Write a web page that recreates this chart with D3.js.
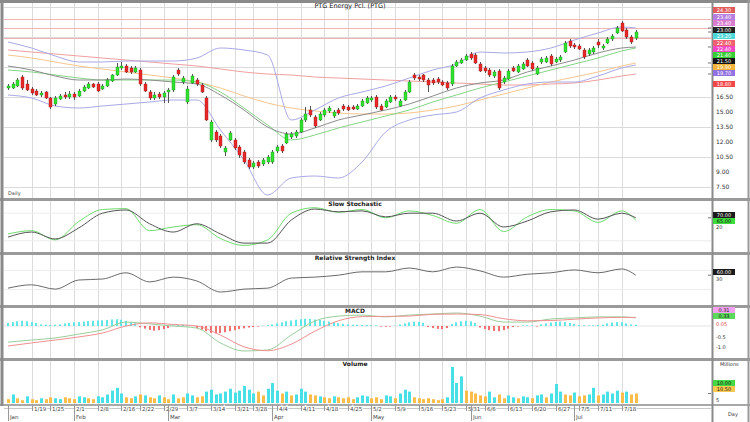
<!DOCTYPE html>
<html>
<head>
<meta charset="utf-8">
<script src="https://cdn.jsdelivr.net/npm/d3@7"></script>
<style>
  body { margin: 0; background: #fff; }
  svg { display: block; font-family: "DejaVu Sans", sans-serif; }
</style>
</head>
<body>
<svg id="chart" width="750" height="422"></svg>
<script>
'use strict'

// ---- data ----
var holidays = ["2016-01-18", "2016-02-15", "2016-03-25", "2016-05-30", "2016-07-04"];

var opens = [17.4,17.4,17.6,18.5,17.8,17.3,17.1,16.7,17.0,16.4, 15.8,16.3,16.7,16.5,16.8,16.6,17.1,17.4,17.8,17.8,
  17.3,17.6,18.1,18.7,19.4,19.6,19.4,19.0,19.2,17.8, 17.0,16.4,16.8,16.5,17.0,17.2,19.2,18.0,16.0,17.9,
  18.2,17.7,16.4,12.2,13.0,12.6,11.0,12.2,12.2,11.5, 11.0,10.2,9.5,10.0,9.8,10.0,10.0,11.1,11.6,11.9,
  12.5,12.6,13.0,14.2,15.2,14.5,14.2,14.7,15.1,14.6, 15.2,15.6,15.5,15.5,15.3,15.6,15.9,16.2,16.5,15.6,
  15.5,16.0,16.5,15.6,16.2,17.0,18.7,18.5,18.7,18.2, 18.2,18.3,18.0,17.9,17.8,19.6,19.9,20.2,20.8,20.7,
  19.8,19.4,19.2,18.6,19.1,18.0,18.3,19.4,19.0,19.3, 20.2,19.9,18.8,20.0,20.0,20.6,20.0,20.2,21.0,22.1,
  21.7,21.6,21.2,20.8,21.0,22.0,21.4,21.9,22.3,22.9, 23.9,23.2,22.5,22.4];
var closes = [17.6,17.8,18.2,17.4,17.2,16.9,16.7,16.9,16.4,15.5, 16.4,16.6,16.5,16.8,16.5,17.1,17.5,17.8,17.5,17.1,
  17.6,18.2,18.7,19.5,19.6,19.0,19.0,19.4,17.8,17.1, 16.4,16.7,16.5,16.9,17.2,18.5,18.8,18.4,17.3,18.6,
  17.8,17.0,14.2,14.0,12.2,11.6,11.4,12.9,11.4,10.7, 10.0,9.5,9.9,9.6,10.2,10.5,11.0,11.5,11.1,12.8,
  12.8,13.0,14.2,14.8,14.7,13.6,14.8,15.2,15.4,15.0, 14.9,15.3,15.2,15.3,15.6,16.1,16.4,16.4,15.5,15.2,
  16.1,16.5,16.3,16.1,17.0,18.0,18.4,18.3,18.2,17.7, 17.9,18.0,17.7,17.4,19.6,20.0,20.2,20.6,20.4,19.9,
  19.1,19.1,18.7,19.0,17.4,18.4,19.1,19.1,19.6,19.8, 19.6,19.3,19.4,20.3,20.4,19.8,20.3,20.5,21.9,21.6,
  21.5,21.3,20.5,21.2,21.4,21.7,21.6,22.3,22.6,23.4, 23.1,22.5,22.0,23.0];
var highs = [17.8,18.0,18.4,18.7,18.2,17.5,17.3,17.1,17.1,16.5, 16.6,16.8,17.0,17.1,17.0,17.3,17.7,18.0,17.9,18.0,
  17.8,18.4,18.8,19.9,20.0,19.8,19.6,19.6,19.4,18.0, 17.2,17.0,17.0,17.1,17.4,18.7,19.4,18.6,17.6,18.8,
  18.4,17.9,16.6,14.2,13.2,12.8,11.6,13.1,12.4,11.7, 11.2,10.4,10.1,10.2,10.4,10.7,11.2,11.7,11.8,13.0,
  13.0,13.2,14.4,15.5,15.6,14.7,15.0,15.4,15.6,15.2, 15.4,15.8,15.7,15.7,15.8,16.3,16.6,16.6,16.7,15.8,
  16.3,16.7,16.7,16.3,17.2,18.2,18.9,18.7,18.8,18.4, 18.4,18.5,18.2,18.1,19.8,20.2,20.4,20.8,21.0,20.9,
  20.0,19.6,19.4,19.2,19.3,18.6,19.3,19.6,19.8,20.0, 20.4,20.1,19.6,20.5,20.6,20.8,20.5,20.7,22.1,22.3,
  21.9,21.8,21.4,21.4,21.6,22.3,21.8,22.5,22.8,23.6, 24.1,23.4,22.7,23.2];
var lows = [17.2,17.3,17.5,17.2,17.1,16.7,16.6,16.5,16.3,15.3, 15.6,16.2,16.3,16.3,16.2,16.5,17.0,17.3,17.4,17.0,
  17.2,17.5,18.0,18.6,19.2,18.9,18.8,18.9,17.6,17.0, 16.2,16.2,16.3,15.9,15.9,17.0,18.6,17.8,15.8,17.8,
  17.6,16.9,14.1,12.0,12.0,11.4,10.6,12.1,11.2,10.4, 9.8,9.3,9.3,9.4,9.6,9.8,9.8,10.9,10.9,11.8,
  12.3,12.4,12.9,14.0,14.5,13.4,14.1,14.5,14.9,14.4, 14.7,15.1,15.1,15.2,15.2,15.5,15.8,16.0,15.3,15.1,
  15.4,15.9,16.1,15.5,16.1,16.9,18.2,18.1,18.0,17.0, 17.7,17.8,17.6,17.2,17.6,19.5,19.8,20.1,20.2,19.8,
  19.0,18.9,18.5,18.4,17.2,17.8,18.2,19.0,18.9,19.2, 19.5,19.1,18.7,19.8,19.9,19.6,19.9,20.0,20.9,21.4,
  21.3,21.2,20.3,20.6,20.8,21.4,21.2,21.8,22.1,22.8, 23.0,22.3,21.8,22.2];

// volume in millions, and whether the bar is drawn as an "up" (cyan) bar
var volumes = [4,9,5,3,7,4,3,5,4,6, 5,4,6,5,4,7,6,5,4,7, 6,9,13,16,10,6,5,7,9,8,
  6,5,8,6,4,9,5,6,10,8, 6,7,12,14,9,10,12,15,11,13, 18,14,10,12,8,15,21,13,10,12,
  8,9,15,12,9,8,7,6,5,7, 6,5,6,4,6,8,7,5,6,4, 8,7,5,10,14,12,6,5,4,5,
  4,3,4,6,38,21,28,13,12,10, 8,7,12,6,9,5,8,6,5,7, 6,5,8,9,6,10,20,12,9,8,
  11,7,8,9,16,8,9,12,10,13, 11,12,9,10];
var volUp = [0,1,0,0,1,0,0,1,0,0, 1,1,0,0,0,1,1,0,0,1, 1,1,1,1,1,0,0,1,0,1,
  0,0,1,0,0,1,0,0,1,1, 0,0,1,1,1,1,1,1,1,1, 1,1,1,0,0,1,1,1,0,1,
  0,1,1,1,0,0,1,0,0,1, 0,0,0,0,1,1,1,0,0,0, 1,1,0,1,1,1,0,0,0,0,
  0,0,0,1,1,1,1,0,0,0, 0,0,1,1,0,0,1,1,0,1, 1,0,1,1,0,1,1,1,0,0,
  1,0,0,1,1,0,1,1,1,1, 0,1,0,0];

var macdHist = [0.12,0.15,0.18,0.2,0.18,0.15,0.12, 0.06,0.05,0.04,0.05,0.06,
  0.1,0.12,0.14,0.15,0.17,0.19,0.2,0.21,0.22,0.23,0.25,0.26,0.24,0.2,0.15,0.1,
  -0.05,-0.1,-0.15,-0.18,-0.16,-0.12,-0.08, 0.02,0.04,0.05,0.03,0.02,
  -0.08,-0.14,-0.2,-0.26,-0.28,-0.27,-0.24,-0.2, -0.16,-0.12,-0.09,-0.06,-0.04,-0.02,0.01,0.03,
  0.06,0.1,0.14,0.18,0.21,0.24,0.26,0.28,0.27,0.25,0.23,0.2,0.17,0.14,0.11,0.08,0.06,
  0.05,0.05,0.04,0.04,0.03,0.02, -0.02,-0.03,-0.02,0.01, 0.06,0.1,0.14,0.17,0.16,0.12,
  -0.04,-0.08,-0.11,-0.12,-0.08, 0.08,0.14,0.18,0.2,0.18,0.12,
  -0.06,-0.12,-0.16,-0.19,-0.2,-0.16,-0.1, -0.04,-0.02,0.02,0.03,0.02,-0.02,
  0.06,0.1,0.13,0.16,0.17,0.15,0.12,0.08, 0.04,0.03,0.02,0.03,0.04,0.05,
  0.1,0.13,0.15,0.14,0.1, 0.06,0.05];

// indicator lines, read once a week (bar index in sampleIdx)
var sampleIdx = [0,5,10,15,20,25,30,35,40,45,50,55,60,65,70,75,80,85,90,95,100,105,110,115,120,125,130,133];
var bbUpper = [22.0,21.4,20.6,20.0,20.0,20.1,20.1,20.1,20.4,21.4,21.2,20.7,14.2,15.2,16.4,17.0,17.6,18.4,19.2,19.8,21.0,20.9,21.0,21.4,22.2,22.9,23.5,23.4];
var bbLower = [16.7,16.4,15.6,15.4,15.6,15.8,16.0,16.2,16.2,13.2,10.2,6.7,8.4,8.6,8.4,10.0,13.0,14.2,14.7,15.0,16.4,17.2,17.8,18.0,18.0,18.6,19.4,19.7];
var ema20 = [19.6,19.2,18.6,18.2,18.2,18.3,18.2,18.0,17.8,16.7,15.2,13.5,12.8,13.4,14.2,14.7,15.2,15.8,16.6,17.4,17.9,18.2,19.0,19.6,20.2,20.9,21.4,21.5];
var sma50 = [19.2,19.0,18.7,18.4,18.2,18.2,18.2,18.2,18.0,17.0,15.4,13.7,12.2,12.7,13.4,14.0,14.6,15.2,16.0,16.7,17.4,18.0,18.6,19.2,19.8,20.4,21.1,21.4];
var sma100 = [20.7,20.4,20.0,19.6,19.3,19.0,18.7,18.4,18.0,17.4,16.6,15.9,15.4,15.1,14.9,14.8,14.8,14.9,15.2,15.6,16.2,16.8,17.4,18.0,18.5,19.0,19.6,19.9];
var sma200 = [21.2,21.0,20.8,20.6,20.4,20.2,20.0,19.8,19.6,19.3,19.0,18.8,18.7,18.5,18.4,18.3,18.2,18.1,18.0,17.9,17.8,17.7,17.7,17.8,17.9,18.2,18.6,18.8];
var levels = [24.3, 23.4, 22.4];

var stochK = [35,42,22,62,88,90,42,50,55,25,10,22,80,92,82,88,70,85,75,58,88,40,72,88,85,60,85,65];
var stochD = [28,39,24,48,80,87,57,39,57,35,15,15,65,89,83,85,72,80,80,63,80,50,63,83,87,67,80,70];
var rsi = [33,40,31,50,52,65,46,56,48,25,31,33,54,56,60,67,67,75,67,77,69,56,62,65,71,65,73,60];
var macdLine = [-0.62,-0.54,-0.46,-0.31,-0.15,0.15,0.08,0.0,-0.08,-0.65,-0.96,-0.92,-0.35,0.19,0.38,0.42,0.35,0.42,0.46,0.5,0.38,0.15,0.15,0.27,0.31,0.35,0.35,0.31];
var signalLine = [-0.77,-0.65,-0.54,-0.42,-0.27,0.0,0.12,0.06,0.0,-0.35,-0.8,-0.95,-0.7,-0.2,0.2,0.36,0.37,0.38,0.45,0.46,0.44,0.28,0.2,0.21,0.26,0.31,0.33,0.33];

var priceTicks = [16.5, 15.0, 13.5, 12.0, 10.5, 9.0, 7.5];
var priceGrid = [25.5, 22.5, 19.5, 16.5, 13.5, 10.5, 7.5];

// ---- trading calendar ----
var N = opens.length;
var dates = [];
var fmtKey = d3.timeFormat("%Y-%m-%d");
var day = new Date(2016, 0, 11);
while (dates.length < N) {
    var dow = day.getDay();
    if (dow > 0 && dow < 6 && holidays.indexOf(fmtKey(day)) < 0) dates.push(new Date(day));
    day.setDate(day.getDate() + 1);
}
var weekStarts = [], monthStarts = [0];
for (var i = 1; i < N; i++) {
    if (+d3.timeMonday.floor(dates[i]) !== +d3.timeMonday.floor(dates[i - 1])) weekStarts.push(i);
    if (dates[i].getMonth() !== dates[i - 1].getMonth()) monthStarts.push(i);
}

// ---- layout ----
var plotL = 4, plotR = 711;
var svg = d3.select("#chart");

var x = d3.scaleLinear().domain([0, N - 1]).range([8, 635.8]);
var yP = d3.scaleLinear().domain([6.4, 25.7]).range([198, 5]);
var yS = d3.scaleLinear().domain([0, 100]).range([250, 204]);
var yR = d3.scaleLinear().domain([0, 100]).range([304, 256]);
var yM = d3.scaleLinear().domain([-1.23, 0.73]).range([358, 307]);
var yV = d3.scaleLinear().domain([0, 40]).range([403, 365]);

var panels = [[3, 198], [201, 252], [255, 305], [308, 358], [361, 404]];

svg.append("rect").attr("width", 750).attr("height", 422).attr("fill", "#fff");

var defs = svg.append("defs");
panels.forEach(function (p, k) {
    defs.append("clipPath").attr("id", "clip" + k)
        .append("rect").attr("x", plotL).attr("y", p[0]).attr("width", plotR - plotL).attr("height", p[1] - p[0]);
});

// vertical week grid in every panel
var grid = svg.append("g");
panels.forEach(function (p) {
    grid.selectAll(null).data(weekStarts).enter().append("line")
        .attr("x1", function (d) { return Math.round(x(d)) + 0.5; })
        .attr("x2", function (d) { return Math.round(x(d)) + 0.5; })
        .attr("y1", p[0]).attr("y2", p[1])
        .attr("stroke", "#dcdcdc").attr("stroke-width", 1);
});

// ---- main price panel ----
var main = svg.append("g").attr("clip-path", "url(#clip0)");
main.selectAll(null).data(priceGrid).enter().append("line")
    .attr("x1", plotL).attr("x2", plotR)
    .attr("y1", function (d) { return Math.round(yP(d)) + 0.5; })
    .attr("y2", function (d) { return Math.round(yP(d)) + 0.5; })
    .attr("stroke", "#dadada");
main.selectAll(null).data(levels).enter().append("line")
    .attr("x1", plotL).attr("x2", plotR)
    .attr("y1", function (d) { return Math.round(yP(d)) + 0.5; })
    .attr("y2", function (d) { return Math.round(yP(d)) + 0.5; })
    .attr("stroke", "#f0b4b4");

function sampled(vals) {
    return vals.map(function (v, k) { return { i: sampleIdx[k], v: v }; });
}
function drawLine(g, vals, yScale, color, width) {
    g.append("path").datum(sampled(vals))
        .attr("fill", "none").attr("stroke", color).attr("stroke-width", width || 1)
        .attr("d", d3.line().x(function (d) { return x(d.i); }).y(function (d) { return yScale(d.v); }).curve(d3.curveMonotoneX));
}

drawLine(main, sma200, yP, "#f0a0a0");
drawLine(main, sma100, yP, "#f7c68e");
drawLine(main, bbUpper, yP, "#a9a9e6");
drawLine(main, bbLower, yP, "#a9a9e6");
drawLine(main, sma50, yP, "#86d486");
drawLine(main, ema20, yP, "#8c8c8c");

var idx = d3.range(N);
main.selectAll(null).data(idx).enter().append("line")
    .attr("x1", function (i) { return Math.round(x(i)) + 0.5; })
    .attr("x2", function (i) { return Math.round(x(i)) + 0.5; })
    .attr("y1", function (i) { return yP(highs[i]); })
    .attr("y2", function (i) { return yP(lows[i]); })
    .attr("stroke", "#555");
main.selectAll(null).data(idx).enter().append("rect")
    .attr("x", function (i) { return Math.round(x(i)) - 1; })
    .attr("width", 3)
    .attr("y", function (i) { return yP(Math.max(opens[i], closes[i])); })
    .attr("height", function (i) { return Math.max(1, Math.abs(yP(opens[i]) - yP(closes[i]))); })
    .attr("fill", function (i) { return closes[i] >= opens[i] ? "#2fe02f" : "#e82828"; })
    .attr("stroke", function (i) { return closes[i] >= opens[i] ? "#1a9a1a" : "#a01818"; })
    .attr("stroke-width", 0.4);

// ---- slow stochastic ----
var st = svg.append("g").attr("clip-path", "url(#clip1)");
[20, 80].forEach(function (v) {
    st.append("line").attr("x1", plotL).attr("x2", plotR).attr("y1", yS(v)).attr("y2", yS(v)).attr("stroke", "#ececec");
});
drawLine(st, stochK, yS, "#6fdc6f");
drawLine(st, stochD, yS, "#555");

// ---- RSI ----
var rs = svg.append("g").attr("clip-path", "url(#clip2)");
[30, 70].forEach(function (v) {
    rs.append("line").attr("x1", plotL).attr("x2", plotR).attr("y1", yR(v)).attr("y2", yR(v)).attr("stroke", "#ececec");
});
drawLine(rs, rsi, yR, "#6a6a6a");

// ---- MACD ----
var mc = svg.append("g").attr("clip-path", "url(#clip3)");
mc.append("line").attr("x1", plotL).attr("x2", plotR).attr("y1", yM(0)).attr("y2", yM(0)).attr("stroke", "#e4e4e4");
mc.selectAll(null).data(idx).enter().append("rect")
    .attr("x", function (i) { return Math.round(x(i)) - 1; })
    .attr("width", 2)
    .attr("y", function (i) { return Math.min(yM(0), yM(macdHist[i])); })
    .attr("height", function (i) { return Math.abs(yM(macdHist[i]) - yM(0)); })
    .attr("fill", function (i) { return macdHist[i] >= 0 ? "#5fe6e6" : "#f07070"; });
drawLine(mc, macdLine, yM, "#9acd9a");
drawLine(mc, signalLine, yM, "#ef9090");

// ---- volume ----
var vo = svg.append("g").attr("clip-path", "url(#clip4)");
vo.selectAll(null).data(idx).enter().append("rect")
    .attr("x", function (i) { return Math.round(x(i)) - 1; })
    .attr("width", 3)
    .attr("y", function (i) { return yV(volumes[i]); })
    .attr("height", function (i) { return yV(0) - yV(volumes[i]); })
    .attr("fill", function (i) { return volUp[i] ? "#46e0e6" : "#fbbd4a"; });

// ---- frame ----
var frame = svg.append("g");
[199.5, 253.5, 306.5, 359.5].forEach(function (y) {
    frame.append("line").attr("x1", 0).attr("x2", 750).attr("y1", y).attr("y2", y).attr("stroke", "#9a9a9a").attr("stroke-width", 3);
});
frame.append("line").attr("x1", 0).attr("x2", 750).attr("y1", 405).attr("y2", 405).attr("stroke", "#a8a8a8").attr("stroke-width", 2);
frame.append("line").attr("x1", 0).attr("x2", 750).attr("y1", 1.5).attr("y2", 1.5).attr("stroke", "#8a8a8a").attr("stroke-width", 3);
frame.append("line").attr("x1", 2).attr("x2", 2).attr("y1", 0).attr("y2", 406).attr("stroke", "#8a8a8a").attr("stroke-width", 3);
frame.append("line").attr("x1", 712.5).attr("x2", 712.5).attr("y1", 0).attr("y2", 422).attr("stroke", "#8a8a8a").attr("stroke-width", 2);
frame.append("line").attr("x1", 748.5).attr("x2", 748.5).attr("y1", 0).attr("y2", 422).attr("stroke", "#9a9a9a").attr("stroke-width", 2);

// ---- x axis ----
var xa = svg.append("g").attr("font-size", 5.5).attr("fill", "#444");
xa.append("line").attr("x1", plotL).attr("x2", plotR).attr("y1", 408.5).attr("y2", 408.5).attr("stroke", "#c8c8c8");
var fmtDay = d3.timeFormat("%-m/%-d"), fmtMon = d3.timeFormat("%b");
weekStarts.forEach(function (i) {
    var xi = Math.round(x(i)) + 0.5;
    xa.append("line").attr("x1", xi).attr("x2", xi).attr("y1", 405).attr("y2", 411).attr("stroke", "#999");
    xa.append("text").attr("x", xi + 1.5).attr("y", 410.5)
        .attr("stroke", "#fff").attr("stroke-width", 2).attr("paint-order", "stroke")
        .text(fmtDay(dates[i]));
});
monthStarts.forEach(function (i) {
    var xi = Math.round(x(i)) + 0.5;
    xa.append("line").attr("x1", xi).attr("x2", xi).attr("y1", 405).attr("y2", 421).attr("stroke", "#999");
    xa.append("text").attr("x", xi + 1.5).attr("y", 419).text(fmtMon(dates[i]));
});

// ---- titles ----
var tt = svg.append("g").attr("fill", "#222").attr("text-anchor", "middle");
tt.append("text").attr("x", 350).attr("y", 8).attr("font-size", 6.5).text("PTG Energy Pcl. (PTG)");
[["Slow Stochastic", 206], ["Relative Strength Index", 260], ["MACD", 313], ["Volume", 366]].forEach(function (t) {
    tt.append("text").attr("x", 355).attr("y", t[1]).attr("font-size", 6).attr("font-weight", "bold").text(t[0]);
});
svg.append("text").attr("x", 8).attr("y", 195).attr("font-size", 5).attr("fill", "#444").text("Daily");

// ---- right axis ----
var ra = svg.append("g").attr("font-size", 6).attr("fill", "#333");
priceTicks.forEach(function (v) {
    ra.append("text").attr("x", 716).attr("y", yP(v) + 2).text(v.toFixed(2));
});
var fmt2 = d3.format(".2f");
function tag(y, fill, txt, txtFill) {
    ra.append("rect").attr("x", 713).attr("y", y - 3).attr("width", 22).attr("height", 6).attr("fill", fill);
    ra.append("text").attr("x", 724).attr("y", y + 2).attr("text-anchor", "middle").attr("font-size", 5)
        .attr("fill", txtFill || "#fff").text(txt);
}
function tick(y) {
    ra.append("line").attr("x1", 708).attr("x2", 711).attr("y1", y).attr("y2", y).attr("stroke", "#777");
}
var last = N - 1, lastS = sampleIdx.length - 1;
var mainTags = [
    [levels[0], "#e05c5c"], [bbUpper[lastS], "#b57ee0"], [levels[1], "#d77ccf"], [closes[last], "#222"],
    [highs[last], "#4fd8d8"], [levels[2], "#f0606e"], [opens[last], "#f048c4"], [sma50[lastS], "#36d036"],
    [ema20[lastS], "#151515"], [sma100[lastS], "#f4b43a"], [bbLower[lastS], "#9272e0"], [sma200[lastS], "#f04848"]
];
var tagY = [10, 17, 23, 30, 36, 43, 49, 55, 61, 67, 73, 84];
mainTags.forEach(function (t, k) { tag(tagY[k], t[1], fmt2(t[0])); });
[closes[last], bbUpper[lastS], ema20[lastS], sma100[lastS], sma200[lastS]].forEach(function (v) { tick(yP(v)); });

tag(215, "#1a1a1a", fmt2(stochD[lastS]));
tag(221, "#3ddc3d", fmt2(stochK[lastS]), "#111");
tick(yS(70));
ra.append("text").attr("x", 716).attr("y", 229).attr("font-size", 5).text("20");

tag(272, "#1a1a1a", fmt2(rsi[lastS]));
tick(yR(60));
ra.append("text").attr("x", 716).attr("y", 281).attr("font-size", 5).text("30");

tag(310, "#f4a0f0", fmt2(macdLine[lastS]), "#222");
tag(316, "#5cd85c", fmt2(signalLine[lastS]), "#111");
ra.append("text").attr("x", 716).attr("y", 326).attr("font-size", 5).attr("fill", "#e04040").text(fmt2(macdHist[last]));
ra.append("text").attr("x", 716).attr("y", 339).attr("font-size", 5).text("-0.5");
ra.append("text").attr("x", 716).attr("y", 349).attr("font-size", 5).text("-1.0");

ra.append("text").attr("x", 720).attr("y", 366).attr("font-size", 5).text("Millions");
tag(383, "#45d845", fmt2(volumes[last]), "#111");
tag(389, "#f8c850", fmt2(d3.mean(volumes.slice(-20))), "#111");
tick(yV(volumes[last]));
ra.append("text").attr("x", 716).attr("y", 402).attr("font-size", 5).text("5");
ra.append("text").attr("x", 728).attr("y", 416).attr("font-size", 5).text("Day");
</script>
</body>
</html>
